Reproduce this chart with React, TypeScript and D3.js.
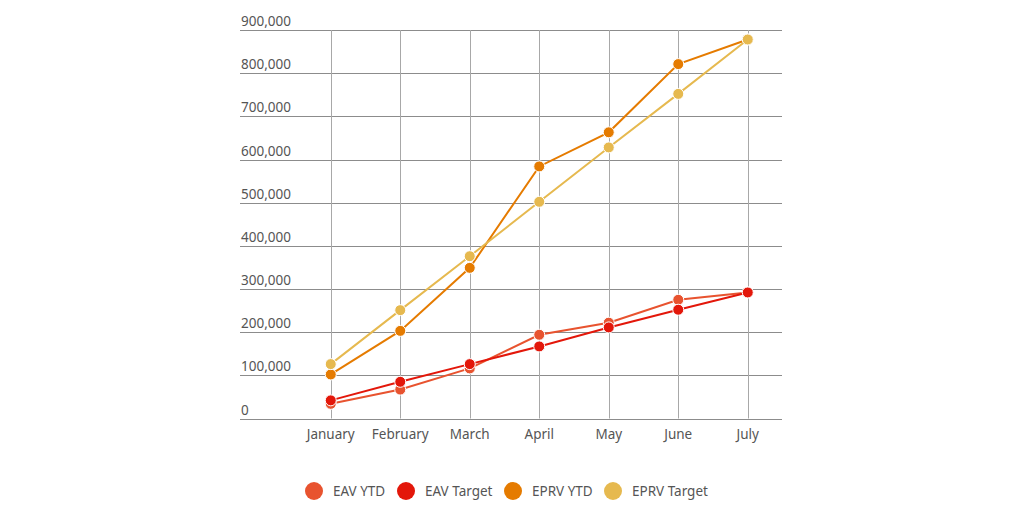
import React, { useEffect, useRef } from 'react';
import * as d3 from 'd3';

const months = ['January', 'February', 'March', 'April', 'May', 'June', 'July'];
const yTicks = [0, 100000, 200000, 300000, 400000, 500000, 600000, 700000, 800000, 900000];

const eavYtd = [34000, 67000, 116000, 194000, 222000, 275000, 292000];
const eavTarget = [42000, 85000, 126000, 167000, 211000, 252000, 292000];
const eprvYtd = [102000, 203000, 349000, 584000, 663000, 821000, 878000];
const eprvTarget = [126000, 251000, 376000, 502000, 628000, 752000, 878000];

const seriesNames = ['EAV YTD', 'EAV Target', 'EPRV YTD', 'EPRV Target'];
const seriesColors = ['#e8532f', '#e3170a', '#e57b00', '#e6b94f'];

const App = () => {
  const ref = useRef<SVGSVGElement | null>(null);

  useEffect(() => {
    const svg = d3.select(ref.current);
    svg.selectAll('*').remove();

    const font = '"Noto Sans", sans-serif';
    const allSeries = [eavYtd, eavTarget, eprvYtd, eprvTarget];

    const x = d3.scaleBand<string>().domain(months).range([296, 782.5]);
    const y = d3.scaleLinear().domain([0, 900000]).range([418.5, 30]);
    const fmt = d3.format(',');

    // horizontal grid + labels
    const grid = svg.append('g');
    grid
      .selectAll('line.h')
      .data(yTicks)
      .enter()
      .append('line')
      .attr('x1', 240)
      .attr('x2', 782)
      .attr('y1', (d) => Math.round(y(d)) + 0.5)
      .attr('y2', (d) => Math.round(y(d)) + 0.5)
      .attr('stroke', '#8c8c8c')
      .attr('stroke-width', 1);

    grid
      .selectAll('line.v')
      .data(months)
      .enter()
      .append('line')
      .attr('x1', (d) => Math.round(x(d)! + x.bandwidth() / 2) + 0.5)
      .attr('x2', (d) => Math.round(x(d)! + x.bandwidth() / 2) + 0.5)
      .attr('y1', y(900000))
      .attr('y2', y(0))
      .attr('stroke', '#a8a8a8')
      .attr('stroke-width', 1);

    grid
      .selectAll('text.y')
      .data(yTicks)
      .enter()
      .append('text')
      .attr('x', 241)
      .attr('y', (d) => y(d) - 4)
      .attr('fill', '#555')
      .style('font-family', font)
      .style('font-size', '13.5px')
      .text((d) => fmt(d));

    grid
      .selectAll('text.x')
      .data(months)
      .enter()
      .append('text')
      .attr('x', (d) => x(d)! + x.bandwidth() / 2)
      .attr('y', 439)
      .attr('text-anchor', 'middle')
      .attr('fill', '#555')
      .style('font-family', font)
      .style('font-size', '13.5px')
      .text((d) => d);

    const line = d3
      .line<number>()
      .x((_, i) => x(months[i])! + x.bandwidth() / 2)
      .y((v) => y(v));

    allSeries.forEach((values, s) => {
      const g = svg.append('g');
      g.append('path')
        .datum(values)
        .attr('d', line)
        .attr('fill', 'none')
        .attr('stroke', seriesColors[s])
        .attr('stroke-width', 2);

      g.selectAll('circle')
        .data(values)
        .enter()
        .append('circle')
        .attr('cx', (_, i) => x(months[i])! + x.bandwidth() / 2)
        .attr('cy', (v) => y(v))
        .attr('r', 5.5)
        .attr('fill', seriesColors[s])
        .attr('stroke', '#fff')
        .attr('stroke-width', 1);
    });

    // legend
    const legend = svg.append('g');
    const itemX = [314, 406, 513, 613];
    seriesNames.forEach((name, i) => {
      legend
        .append('circle')
        .attr('cx', itemX[i])
        .attr('cy', 491)
        .attr('r', 9)
        .attr('fill', seriesColors[i]);
      legend
        .append('text')
        .attr('x', itemX[i] + 19)
        .attr('y', 496)
        .attr('fill', '#555')
        .style('font-family', font)
        .style('font-size', '13.5px')
        .text(name);
    });
  }, []);

  return (
    <svg
      ref={ref}
      width={1024}
      height={512}
      style={{ position: 'absolute', left: 0, top: 0, background: '#fff' }}
    />
  );
};

export default App;
